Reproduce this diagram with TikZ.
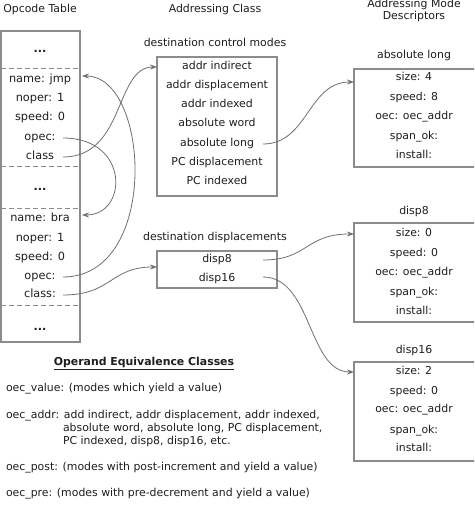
\documentclass[tikz,border=0pt]{standalone}
\usepackage{fontspec}
\setmainfont{DejaVu Sans}
\usetikzlibrary{arrows.meta}
\definecolor{boxgray}{HTML}{8C8C8C}
\definecolor{linegray}{HTML}{707070}
\definecolor{txt}{HTML}{1E1E1E}
\begin{document}
\begin{tikzpicture}[x=1pt,y=-1pt,
  every node/.style={text=txt,font=\fontsize{10.9}{12.5}\selectfont,inner sep=0pt,outer sep=0pt},
  row/.style={text height=0.72em,text depth=0.2em,anchor=center},
  trow/.style={row,font=\fontsize{11.3}{13}\selectfont},
  tbox/.style={draw=boxgray,line width=1.2pt,fill=none},
  sep/.style={draw=boxgray,line width=1pt,dash pattern=on 5pt off 3pt},
  conn/.style={draw=linegray,line width=0.8pt,-{Stealth[length=7pt,width=5pt]}},
  plain/.style={text height=0.72em,text depth=0.2em,anchor=west}]
\clip (0,0) rectangle (474,529);
\fill[white] (0,0) rectangle (474,529);

% ---------- titles ----------
\node[row] (t1) at (40,10) {Opcode Table};
\node[row] (t2) at (215,10) {Addressing Class};
\node[row] (t3a) at (414,5) {Addressing Mode};
\node[row] (t3b) at (414,17) {Descriptors};

% ---------- opcode table ----------
\node[tbox,minimum width=79pt,minimum height=311pt] (optable) at (40.5,186.5) {};
\draw[sep] (1,69) -- (80,69);
\draw[sep] (1,167) -- (80,167);
\draw[sep] (1,208) -- (80,208);
\draw[sep] (1,305) -- (80,305);
\node[trow] (d1) at (40,50) {\textbf{...}};
\node[trow] (jname) at (40,80) {name: jmp};
\node[trow] (jnoper) at (40,99) {noper: 1};
\node[trow] (jspeed) at (40,118) {speed: 0};
\node[trow] (jopec) at (40,138) {opec:};
\node[trow] (jclass) at (40,157) {class};
\node[trow] (d2) at (40,188) {\textbf{...}};
\node[trow] (bname) at (40,219) {name: bra};
\node[trow] (bnoper) at (40,239) {noper: 1};
\node[trow] (bspeed) at (40,258) {speed: 0};
\node[trow] (bopec) at (40,277) {opec:};
\node[trow] (bclass) at (40,295) {class:};
\node[trow] (d3) at (40,328) {\textbf{...}};
\coordinate (jopecR) at (63,138);
\coordinate (jclassR) at (63,157);
\coordinate (bopecR) at (63,277);
\coordinate (bclassR) at (63,295);
\coordinate (jnameIn) at (82,76);
\coordinate (bnameIn) at (82,215);

% ---------- addressing class ----------
\node[row] (dcmt) at (215,44) {destination control modes};
\node[tbox,minimum width=120pt,minimum height=139pt] (dcm) at (217,126.5) {};
\node[row] (ai) at (217,67) {addr indirect};
\node[row] (ad) at (217,86) {addr displacement};
\node[row] (ax) at (217,105) {addr indexed};
\node[row] (aw) at (217,124) {absolute word};
\node[row] (al) at (217,144) {absolute long};
\node[row] (pd) at (217,163) {PC displacement};
\node[row] (px) at (217,182) {PC indexed};

\node[row] (ddt) at (215,238) {destination displacements};
\node[tbox,minimum width=120pt,minimum height=37pt] (dd) at (217,269.5) {};
\node[row] (d8) at (217,260) {disp8};
\node[row] (d16) at (217,279) {disp16};
\coordinate (alR) at (263,144);
\coordinate (d8R) at (263,260);
\coordinate (d16R) at (263,277);

% ---------- descriptors ----------
\node[row] (alt) at (414,56) {absolute long};
\node[tbox,minimum width=124pt,minimum height=98pt] (alb) at (416,118) {};
\node[row] at (414,78) {size: 4};
\node[row] at (414,98) {speed: 8};
\node[row] at (414,117) {oec: oec\_addr};
\node[row] at (414,137) {span\_ok:};
\node[row] at (414,156) {install:};

\node[row] (d8t) at (414,212) {disp8};
\node[tbox,minimum width=124pt,minimum height=99pt] (d8b) at (416,272.5) {};
\node[row] at (414,234) {size: 0};
\node[row] at (414,254) {speed: 0};
\node[row] at (414,273) {oec: oec\_addr};
\node[row] at (414,293) {span\_ok:};
\node[row] at (414,312) {install:};

\node[row] (d16t) at (414,351) {disp16};
\node[tbox,minimum width=124pt,minimum height=99pt] (d16b) at (416,411.5) {};
\node[row] at (414,372) {size: 2};
\node[row] at (414,392) {speed: 0};
\node[row] at (414,410) {oec: oec\_addr};
\node[row] at (414,431) {span\_ok:};
\node[row] at (414,449) {install:};

% ---------- connectors ----------
\draw[conn] (jclassR) .. controls (125,157) and (115,67) .. (dcm.west |- ai);
\draw[conn] (jopecR) .. controls (130,138) and (128,215) .. (bnameIn);
\draw[conn] (bopecR) .. controls (160,277) and (150,76) .. (jnameIn);
\draw[conn] (bclassR) .. controls (112,295) and (110,267) .. ([yshift=2.5pt]dd.west);
\draw[conn] (alR) .. controls (308,144) and (308,82) .. ([yshift=36pt]alb.west);
\draw[conn] (d8R) .. controls (308,260) and (305,234) .. ([yshift=38.5pt]d8b.west);
\draw[conn] (d16R) .. controls (312,277) and (308,372) .. ([yshift=39.5pt]d16b.west);

% ---------- operand equivalence classes ----------
\node[row,font=\fontsize{10.9}{12.5}\selectfont\bfseries] (oect) at (144,363) {\underline{Operand Equivalence Classes}};
\node[plain] (ov) at (6,389) {oec\_value: (modes which yield a value)};
\node[plain] (oa) at (6,416) {oec\_addr: add indirect, addr displacement, addr indexed,};
\node[plain] (oa2) at (63,429) {absolute word, absolute long, PC displacement,};
\node[plain] (oa3) at (63,442) {PC indexed, disp8, disp16, etc.};
\node[plain] (op) at (6,468) {oec\_post: (modes with post-increment and yield a value)};
\node[plain] (opr) at (6,494) {oec\_pre: (modes with pre-decrement and yield a value)};
\end{tikzpicture}
\end{document}
